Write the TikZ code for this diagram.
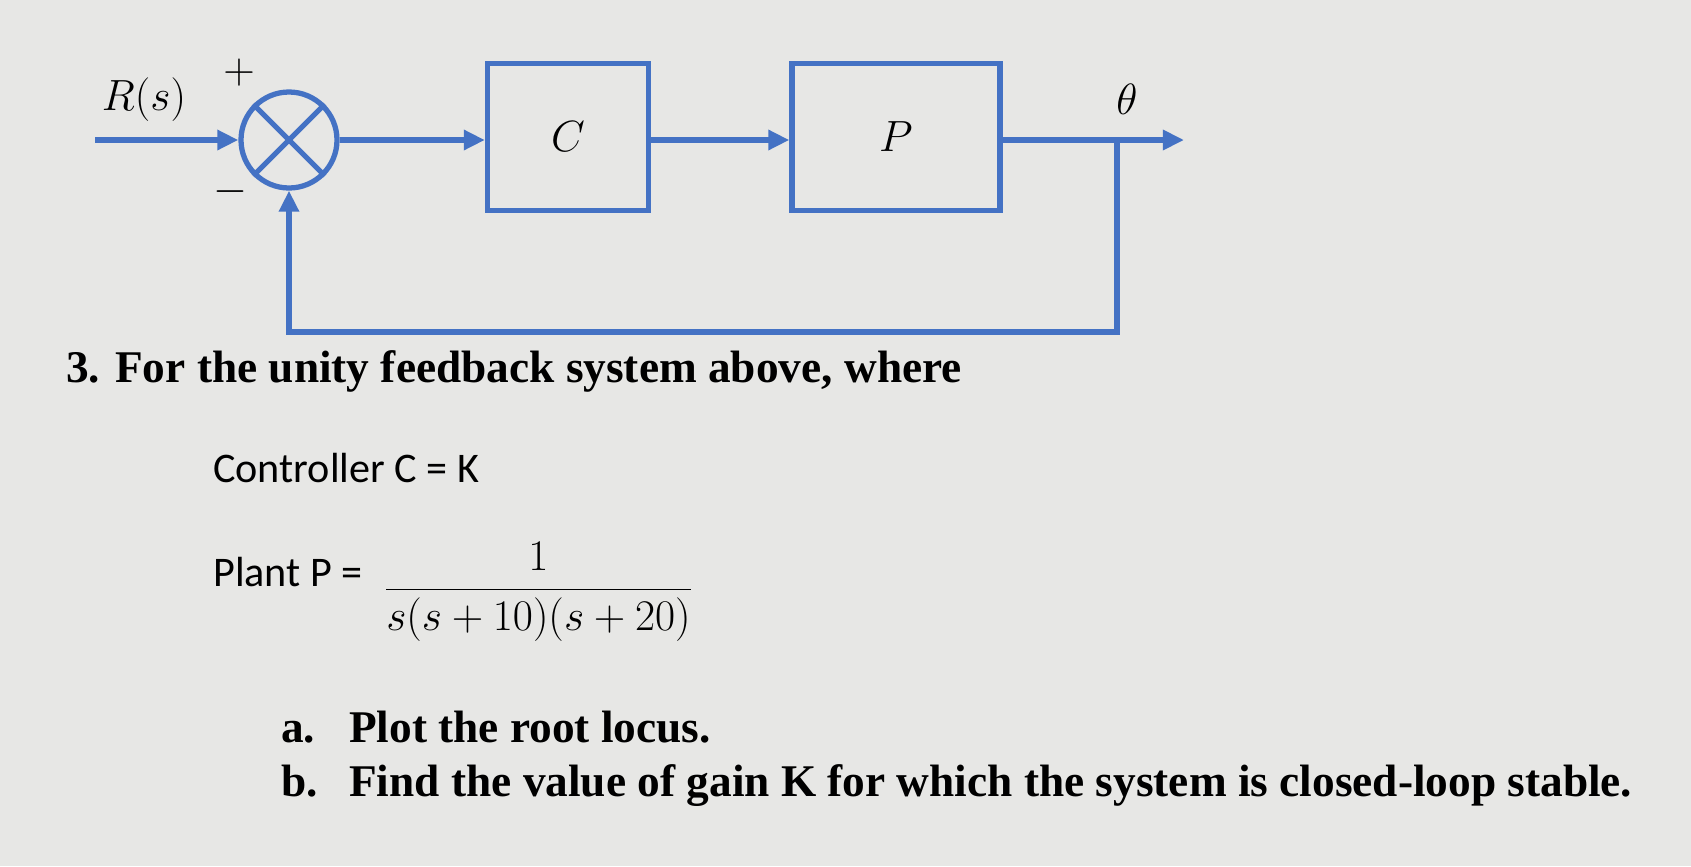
\documentclass[tikz,border=0pt]{standalone}
\usepackage{amsmath}
\usepackage{fontspec}
\setmainfont{Liberation Serif}
\newfontfamily\calfnt{Carlito}
\usetikzlibrary{arrows.meta}
\definecolor{bl}{HTML}{4472C4}
\begin{document}
\begin{tikzpicture}[x=0.02cm,y=-0.02cm,
  blk/.style={draw=bl,line width=3pt,minimum width=161*0.02cm,minimum height=147*0.02cm,inner sep=0pt,font=\fontsize{34}{34}\selectfont},
  sig/.style={draw=bl,line width=3pt},
  arr/.style={sig,-{Triangle[length=12pt,width=11pt]}},
  bt/.style={anchor=base west,font=\fontsize{25.8}{28}\bfseries\selectfont},
  ct/.style={anchor=base west,font=\calfnt\fontsize{24}{26}\selectfont}]
\useasboundingbox[fill={rgb,255:red,231;green,231;blue,229}] (0,0) rectangle (1691,866);
\node[draw=bl,line width=3pt,circle,minimum size=96*0.02cm,inner sep=0pt] (s) at (289,140) {};
\draw[bl,line width=3pt] (s.north west)--(s.south east) (s.north east)--(s.south west);
\node[blk] (C) at (568,137) {$C$};
\node[blk,minimum width=208*0.02cm] (P) at (896,137) {$P$};
\coordinate (in) at (95,140);
\coordinate (out) at (1184,140);
\coordinate (br) at (1117,140);
\coordinate (fb1) at (1117,332);
\coordinate (fb2) at (289,332);
\draw[arr] (in)--(s.west);
\draw[arr] (s.east)--(C.west |- s.east);
\draw[arr] (C.east |- s.east)--(P.west |- s.east);
\draw[arr] (P.east |- s.east)--(out);
\draw[arr] (br)--(fb1)--(fb2)--(s.south);
\node[font=\fontsize{38}{38}\selectfont] (R) at (144,100) {$R(s)$};
\node[font=\fontsize{32}{32}\selectfont] (pl) at (239,73) {$+$};
\node[font=\fontsize{32}{32}\selectfont] (mi) at (230,192) {$-$};
\node[font=\fontsize{34}{34}\selectfont] (th) at (1127,99) {$\theta$};
\node[bt] (t1) at (60,382) {3. For the unity feedback system above, where};
\node[ct] (t2) at (207,482) {Controller C = K};
\node[ct] (t3) at (207,586) {Plant P =};
\node[anchor=west,font=\fontsize{24}{26}\selectfont] (fr) at (378,592) {$\dfrac{1}{s(s+10)(s+20)}$};
\node[bt] (a1) at (275,742) {a.};
\node[bt] (a2) at (343,742) {Plot the root locus.};
\node[bt] (b1) at (275,796) {b.};
\node[bt] (b2) at (343,796) {Find the value of gain K for which the system is closed-loop stable.};
\end{tikzpicture}
\end{document}
